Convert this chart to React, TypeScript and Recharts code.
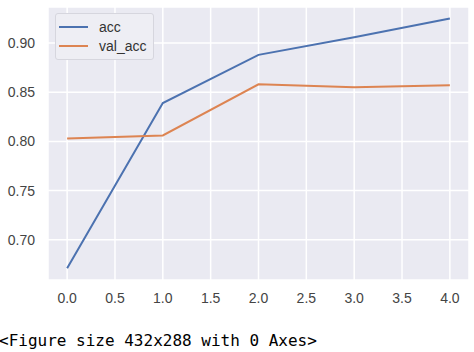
import { LineChart, Line, XAxis, YAxis, CartesianGrid } from 'recharts'

const epochs = [0, 1, 2, 3, 4]
const acc = [0.671, 0.839, 0.888, 0.906, 0.925]
const valAcc = [0.803, 0.806, 0.858, 0.855, 0.857]
const xTicks = [0, 0.5, 1, 1.5, 2, 2.5, 3, 3.5, 4]
const yTicks = [0.7, 0.75, 0.8, 0.85, 0.9]

const data = epochs.map((e, i) => ({ epoch: e, acc: acc[i], val_acc: valAcc[i] }))

const font = '"Liberation Sans", Arial, sans-serif'
const tick = { fill: '#444', fontSize: 14, fontFamily: font }

const series = [
  { key: 'acc', color: '#4C72B0' },
  { key: 'val_acc', color: '#DD8452' },
]

export default function App() {
  return (
    <div style={{ position: 'absolute', left: 0, top: 0, width: 474, height: 352, background: '#fff', overflow: 'hidden' }}>
      <LineChart width={474} height={310} data={data} margin={{ top: 7, right: 5, left: 0, bottom: 0 }}>
        <CartesianGrid fill="#EAEAF2" fillOpacity={1} stroke="#fff" strokeWidth={1.5} />
        <XAxis dataKey="epoch" type="number" domain={[-0.2, 4.2]} ticks={xTicks} tickFormatter={(v) => v.toFixed(1)} height={30}
          tick={tick} axisLine={false} tickLine={false} tickSize={0} tickMargin={13} allowDataOverflow />
        <YAxis type="number" domain={[0.659, 0.9367]} ticks={yTicks} tickFormatter={(v) => v.toFixed(2)} width={48}
          tick={tick} axisLine={false} tickLine={false} tickSize={0} tickMargin={13} allowDataOverflow />
        {series.map((s) => (
          <Line key={s.key} dataKey={s.key} stroke={s.color} strokeWidth={2} dot={false} isAnimationActive={false} />
        ))}
      </LineChart>
      <div style={{ position: 'absolute', left: 55, top: 13, background: '#EEEEF4', border: '1px solid #d6d6de', borderRadius: 3, padding: '3px 7px 4px 3px', fontFamily: font, fontSize: 14, color: '#333' }}>
        {series.map((s) => (
          <div key={s.key} style={{ display: 'flex', alignItems: 'center', height: 19 }}>
            <span style={{ width: 29, height: 2, background: s.color, marginRight: 11 }} />
            {s.key}
          </div>
        ))}
      </div>
      <div style={{ position: 'absolute', left: -1, top: 331, fontFamily: '"DejaVu Sans Mono", monospace', fontSize: 16, color: '#000', whiteSpace: 'pre' }}>
        {'<Figure size 432x288 with 0 Axes>'}
      </div>
    </div>
  )
}
